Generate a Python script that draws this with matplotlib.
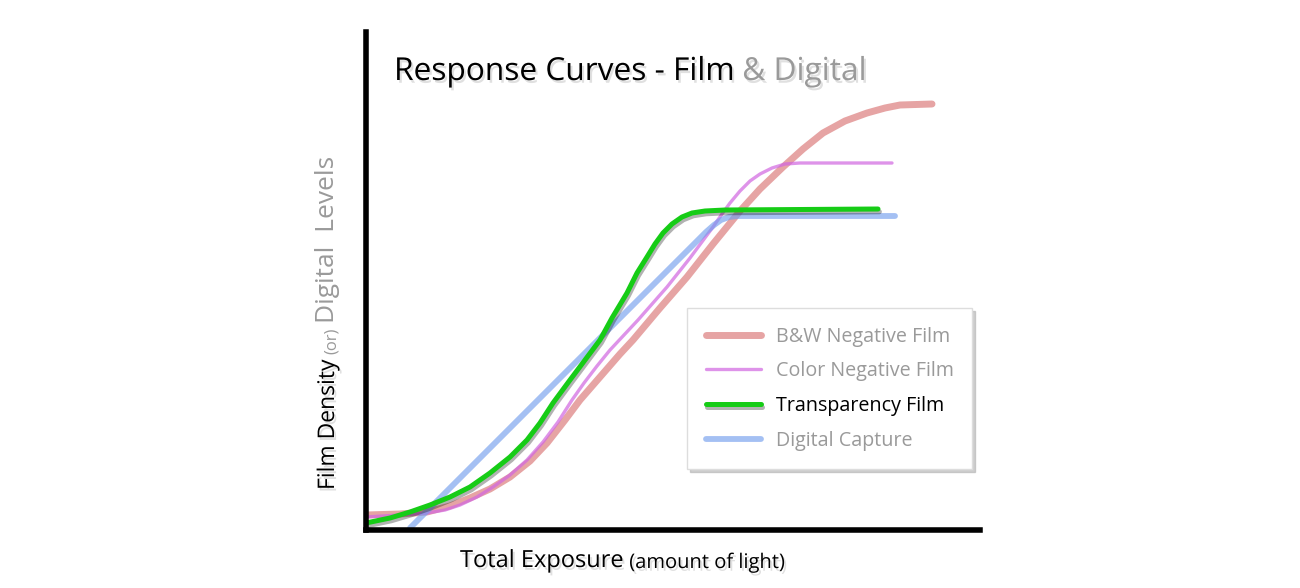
import matplotlib.pyplot as plt
import matplotlib.patheffects as pe

# curve points (exposure, level), axis units = pixels from origin
bw_x = [0, 34, 61, 84, 104, 124, 144, 164, 181, 199, 214, 234, 254, 267, 294, 321, 347,
        374, 394, 417, 437, 457, 479, 501, 519, 534, 566]
bw_y = [15, 16, 18, 24, 32, 41, 53, 69, 87, 110, 130, 153, 176, 190, 222, 253, 286,
        319, 341, 363, 381, 397, 409, 417, 422, 425, 426]

col_x = [0, 34, 61, 79, 94, 111, 127, 144, 161, 177, 192, 206, 218, 231, 244, 272, 301,
         324, 347, 356, 364, 374, 384, 394, 406, 419, 434, 526]
col_y = [13, 15, 17, 20, 25, 33, 43, 55, 70, 88, 108, 130, 147, 164, 180, 210, 243,
         272, 303, 316, 327, 339, 349, 356, 362, 366, 367, 367]

tr_x = [0, 24, 44, 64, 84, 104, 124, 144, 161, 174, 187, 204, 219, 234, 246, 261, 271,
        281, 289, 297, 306, 316, 326, 339, 359, 512]
tr_y = [7, 12, 18, 25, 33, 43, 57, 73, 90, 107, 127, 150, 170, 190, 212, 237, 257,
        273, 286, 297, 306, 313, 317, 319, 320, 321]

dig_x = [44, 340, 348, 355, 363, 372, 529]
dig_y = [2, 298, 305, 310, 313, 314, 314]

labels = ['B&W Negative Film', 'Color Negative Film', 'Transparency Film', 'Digital Capture']
label_colors = ['#9a9a9a', '#9a9a9a', 'black', '#9a9a9a']

plt.rcParams['font.family'] = ['Open Sans', 'DejaVu Sans']

fig = plt.figure(figsize=(13, 5.88), dpi=100)
ax = fig.add_axes([366/1300, (588-530)/588, (980-366)/1300, (530-32)/588])

shadow = [pe.SimpleLineShadow(offset=(1.0, -2.0), shadow_color='k', alpha=0.3), pe.Normal()]

l1, = ax.plot(bw_x, bw_y, color=(0.85, 0.45, 0.45), alpha=0.65, lw=5, solid_capstyle='round', solid_joinstyle='round')
l2, = ax.plot(col_x, col_y, color=(0.82, 0.4, 0.88), alpha=0.7, lw=2.4, solid_capstyle='round', solid_joinstyle='round')
l4, = ax.plot(dig_x, dig_y, color=(0.45, 0.62, 0.93), alpha=0.65, lw=4.2, solid_capstyle='round', solid_joinstyle='round')
l3, = ax.plot(tr_x, tr_y, color='#16cc16', lw=3.6, solid_capstyle='round', solid_joinstyle='round',
              path_effects=shadow)

ax.set_xlim(0, 614)
ax.set_ylim(0, 498)
ax.set_xticks([])
ax.set_yticks([])
for s in ['top', 'right']:
    ax.spines[s].set_visible(False)
for s in ['left', 'bottom']:
    ax.spines[s].set_linewidth(4)
    ax.spines[s].set_capstyle('projecting')

leg = ax.legend([l1, l2, l3, l4], labels, loc='upper left',
                bbox_to_anchor=(687/1300, (588-308)/588), bbox_transform=fig.transFigure,
                fontsize=14.2, handlelength=2.8, handletextpad=0.75, labelspacing=0.74,
                borderpad=0.95, borderaxespad=0, fancybox=False, shadow={'color': '#b0b0b0', 'alpha': 0.6},
                edgecolor='#dddddd', framealpha=1)
for t, c in zip(leg.get_texts(), label_colors):
    t.set_color(c)
leg.get_lines()[2].set_path_effects(shadow)

# title, two colours
tshadow = [pe.withSimplePatchShadow(offset=(1.5, -2), shadow_rgbFace='k', alpha=0.12)]
t1 = fig.text(394/1300, (588-80)/588, 'Response Curves - Film', fontsize=22.8, color='black',
              va='baseline', path_effects=tshadow)
ax.annotate(' & Digital', xycoords=t1, xy=(1, 0), va='bottom', fontsize=22.8, color='#9a9a9a',
            path_effects=tshadow)

# x label
x1 = fig.text(460/1300, (588-567)/588, 'Total Exposure', fontsize=17, color='black', va='baseline',
              path_effects=tshadow)
ax.annotate(' (amount of light)', xycoords=x1, xy=(1, 0), va='bottom', fontsize=14.5, color='black',
            path_effects=tshadow)

# y label
y1 = fig.text(340/1300, (588-490)/588, 'Film Density', fontsize=16.5, color='black', rotation=90,
              ha='right', va='bottom', path_effects=tshadow)
y2 = ax.annotate('(or)', xycoords=y1, xy=(1, 1), xytext=(0, 4), textcoords='offset points',
                 ha='right', va='bottom', rotation=90, fontsize=12, color='#9a9a9a')
ax.annotate('Digital  Levels', xycoords=y2, xy=(1, 1), xytext=(0, 3), textcoords='offset points',
            ha='right', va='bottom', rotation=90, fontsize=19, color='#9a9a9a')

fig.savefig('out.png', dpi=100)
